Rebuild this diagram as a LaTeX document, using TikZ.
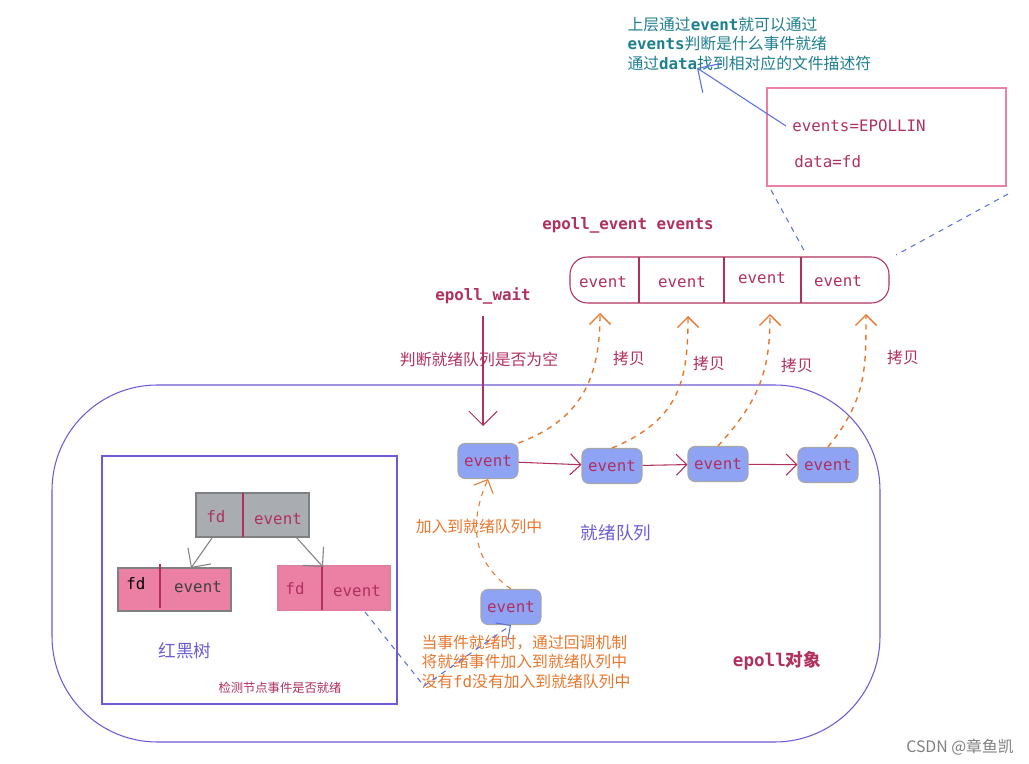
\documentclass[tikz,border=0pt]{standalone}
\usepackage{fontspec}
\setmonofont{DejaVu Sans Mono}
\newfontfamily\cjk{Noto Sans CJK SC}
\usetikzlibrary{arrows.meta}
\definecolor{crim}{HTML}{B0305F}
\definecolor{vio}{HTML}{6B5BD6}
\definecolor{orng}{HTML}{E8772E}
\definecolor{teal2}{HTML}{1E7F8F}
\definecolor{qblue}{HTML}{8FA3F5}
\definecolor{tpink}{HTML}{EC7FA4}
\definecolor{tgray}{HTML}{A9ADB1}
\definecolor{dblue}{HTML}{5A6FE0}
\tikzset{
  qnode/.style={draw=gray!70, fill=qblue, rounded corners=4pt, minimum width=1.2cm, minimum height=0.7cm, text=crim, font=\ttfamily\small},
  lbl/.style={font=\cjk\small},
  copyarr/.style={orng, dashed, thick, -{Straight Barb[length=6pt]}},
}
\begin{document}
\begin{tikzpicture}[x=0.02cm, y=-0.02cm, line width=0.6pt]
\useasboundingbox (0,0) rectangle (1029,764);
% epoll object frame
\draw[vio] (52,385) [rounded corners=60] rectangle (880,742);
\draw[vio] (102,456) rectangle (397,704);
% red-black tree
\draw[gray, fill=tgray] (196,493) rectangle (309,537);
\draw[crim] (243,493) -- (243,537);
\node (rootfd) at (216,517) {\ttfamily\small\color{crim}fd};
\node (rootev) at (278,519) {\ttfamily\small\color{crim}event};
\draw[gray, fill=tpink] (118,568) rectangle (231,611);
\draw[crim] (160,564) -- (160,608);
\node (lfd) at (136,584) {\ttfamily\small fd};
\node (lev) at (198,587) {\ttfamily\small\color{darkgray}event};
\draw[tpink!90!gray, fill=tpink] (278,566) rectangle (390,610);
\draw[crim] (322,566) -- (322,610);
\node (rfd) at (295,589) {\ttfamily\small\color{crim}fd};
\node (rev) at (357,591) {\ttfamily\small\color{crim}event};
\coordinate (rl) at (212,538);
\coordinate (rr) at (296,537);
\coordinate (cl) at (191,568);
\coordinate (cr) at (323,567);
\draw[gray, -{Straight Barb[length=8pt]}] (rl) -- (cl);
\draw[gray, -{Straight Barb[length=8pt]}] (rr) -- (cr);
\node[lbl, vio, font=\cjk] at (185,651) {红黑树};
\node[lbl, crim, font=\cjk\scriptsize] at (280,688) {检测节点事件是否就绪};
% ready queue
\node[qnode] (q1) at (488,461) {event};
\node[qnode] (q2) at (612,466) {event};
\node[qnode] (q3) at (718,464) {event};
\node[qnode] (q4) at (828,465) {event};
\foreach \a/\b in {q1/q2,q2/q3,q3/q4}
  \draw[crim, -{Straight Barb[length=6pt]}] (\a) -- (\b);
\node[lbl, vio, font=\cjk] at (616,533) {就绪队列};
\node[qnode] (qn) at (511,607) {event};
\draw[orng, dashed, -{Straight Barb[length=6pt]}] (qn.north) .. controls (470,560) and (470,520) .. (q1.south);
\node[lbl, orng] at (479,527) {加入到就绪队列中};
\node[lbl, orng, align=left, anchor=west, inner sep=0pt] (cbtxt) at (421,662)
  {当事件就绪时，通过回调机制\\将就绪事件加入到就绪队列中\\没有\texttt{fd}没有加入到就绪队列中};
\coordinate (bend) at (424,686);
\draw[dblue, dashed] (365,612) -- (bend);
\draw[dblue, dashed, -{Straight Barb[length=6pt]}] (bend) -- (qn.south);
\node[crim, font=\cjk\bfseries] at (777,661) {\texttt{\bfseries epoll}对象};
% epoll_wait
\node[crim, font=\ttfamily\small\bfseries] (wait) at (483,296) {epoll\_wait};
\coordinate (waitin) at (483,426);
\draw[crim, -{Straight Barb[length=8pt]}] (483,316) -- (waitin);
\node[lbl, crim] at (479,359) {判断就绪队列是否为空};
% events array
\draw[crim] (570,257) [rounded corners=10] rectangle (889,303);
\foreach \x in {639,724,801} \draw[crim] (\x,257) -- (\x,303);
\node[crim, font=\ttfamily\small] (e1) at (603,282) {event};
\node[crim, font=\ttfamily\small] (e2) at (682,282) {event};
\node[crim, font=\ttfamily\small] (e3) at (762,278) {event};
\node[crim, font=\ttfamily\small] (e4) at (838,281) {event};
\node[crim, font=\ttfamily\small\bfseries] at (628,225) {epoll\_event events};
\draw[copyarr] (q1.north east) .. controls (580,420) and (600,380) .. (600,313);
\draw[copyarr] (q2.north) .. controls (680,420) and (688,380) .. (688,316);
\draw[copyarr] (q3.north) .. controls (760,400) and (770,370) .. (770,314);
\draw[copyarr] (q4.north) .. controls (866,400) and (866,370) .. (866,314);
\node[lbl, crim] at (629,358) {拷贝};
\node[lbl, crim] at (709,363) {拷贝};
\node[lbl, crim] at (797,365) {拷贝};
\node[lbl, crim] at (903,357) {拷贝};
% info box
\draw[tpink] (767,88) rectangle (1006,186);
\node[crim, font=\ttfamily\small, anchor=west] (evin) at (786,126) {events=EPOLLIN};
\node[crim, font=\ttfamily\small, anchor=west] (data) at (788,162) {data=fd};
\draw[dblue, dashed] (771,190) -- (806,254);
\draw[dblue, dashed] (1008,194) -- (896,255);
\node[teal2, font=\cjk\small, align=left, anchor=west, inner sep=0pt] (up) at (627,44)
  {上层通过\texttt{\bfseries event}就可以通过\\\texttt{\bfseries events}判断是什么事件就绪\\通过\texttt{\bfseries data}找到相对应的文件描述符};
\coordinate (uptip) at (697,68);
\draw[dblue, -{Straight Barb[length=10pt]}] (evin.west) -- (uptip);
\node[gray, font=\cjk\small] at (960,747) {CSDN @章鱼凯};
\end{tikzpicture}
\end{document}
